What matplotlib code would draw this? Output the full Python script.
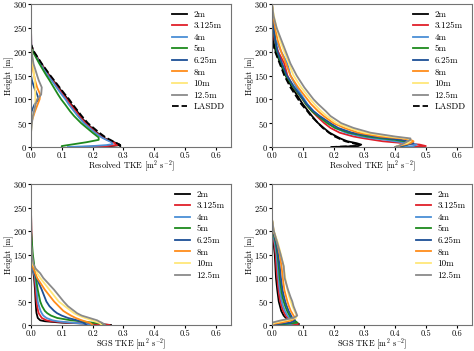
import numpy as np
import matplotlib
matplotlib.use("Agg")
from matplotlib import pyplot as plt

# Schrift wie LaTeX
plt.rcParams['font.family'] = 'serif'
plt.rcParams['font.serif'] = ['cmr10']
plt.rcParams['mathtext.fontset'] = 'cm'
plt.rcParams['axes.formatter.use_mathtext'] = True
plt.rcParams['font.size'] = 6.5

labels = ['2m', '3.125m', '4m', '5m', '6.25m', '8m', '10m', '12.5m']
colors = ['black', '#e0202a', '#4a8fd6', '#1e8a1e', '#1d4f96', '#ff8c1a', '#ffe77a', '#8a8a8a']

# --- Resolved TKE, links ---
z_res_l = [0, 2, 4, 6, 10, 15, 20, 30, 50, 65, 75, 90, 100, 110, 125, 140, 150, 175, 200, 215, 250, 300]
res_l = [
    [0.18, 0.26, 0.29, 0.285, 0.27, 0.25, 0.235, 0.215, 0.18, 0.16, 0.15, 0.13, 0.12, 0.108, 0.09, 0.072, 0.06, 0.033, 0.008, 0.0, 0.0, 0.0],
    [0.16, 0.25, 0.28, 0.28, 0.265, 0.248, 0.232, 0.212, 0.177, 0.157, 0.146, 0.127, 0.116, 0.104, 0.087, 0.07, 0.058, 0.032, 0.008, 0.001, 0.0, 0.0],
    [0.12, 0.20, 0.245, 0.265, 0.262, 0.245, 0.23, 0.208, 0.172, 0.152, 0.14, 0.122, 0.112, 0.1, 0.083, 0.067, 0.055, 0.03, 0.007, 0.001, 0.0, 0.0],
    [0.10, 0.10, 0.12, 0.14, 0.18, 0.22, 0.22, 0.20, 0.163, 0.14, 0.127, 0.11, 0.098, 0.088, 0.074, 0.06, 0.05, 0.027, 0.006, 0.0, 0.0, 0.0],
    [0.0, 0.0, 0.0, 0.0, 0.0, 0.0, 0.0, 0.0, 0.0, 0.0, 0.002, 0.012, 0.025, 0.02, 0.01, 0.003, 0.0, 0.0, 0.0, 0.0, 0.0, 0.0],
    [0.0, 0.0, 0.0, 0.0, 0.0, 0.0, 0.0, 0.0, 0.0, 0.008, 0.013, 0.022, 0.028, 0.03, 0.02, 0.013, 0.01, 0.003, 0.0, 0.0, 0.0, 0.0],
    [0.0, 0.0, 0.0, 0.0, 0.0, 0.0, 0.0, 0.0, 0.002, 0.006, 0.01, 0.014, 0.014, 0.014, 0.014, 0.012, 0.01, 0.006, 0.002, 0.0, 0.0, 0.0],
    [0.0, 0.0, 0.0, 0.0, 0.0, 0.0, 0.0, 0.0, 0.003, 0.006, 0.01, 0.015, 0.02, 0.033, 0.035, 0.025, 0.02, 0.008, 0.002, 0.0, 0.0, 0.0],
]
lasdd_l = [0.29, 0.29, 0.29, 0.285, 0.272, 0.258, 0.243, 0.222, 0.185, 0.165, 0.153, 0.135, 0.124, 0.111, 0.093, 0.075, 0.063, 0.035, 0.01, 0.0, 0.0, 0.0]

# --- Resolved TKE, rechts ---
z_res_r = [0, 2, 5, 8, 12, 15, 18, 22, 30, 40, 50, 65, 75, 90, 100, 125, 150, 175, 200, 225, 250, 275, 300]
res_r = [
    [0.20, 0.28, 0.29, 0.275, 0.245, 0.233, 0.222, 0.21, 0.187, 0.168, 0.15, 0.13, 0.118, 0.1, 0.09, 0.065, 0.044, 0.028, 0.012, 0.004, 0.002, 0.001, 0.0],
    [0.45, 0.50, 0.48, 0.43, 0.36, 0.33, 0.30, 0.265, 0.22, 0.19, 0.17, 0.145, 0.13, 0.11, 0.10, 0.07, 0.05, 0.04, 0.02, 0.008, 0.004, 0.002, 0.0],
    [0.42, 0.46, 0.47, 0.45, 0.40, 0.37, 0.33, 0.29, 0.24, 0.205, 0.18, 0.152, 0.135, 0.115, 0.105, 0.08, 0.06, 0.05, 0.03, 0.012, 0.006, 0.003, 0.0],
    [0.40, 0.42, 0.44, 0.45, 0.43, 0.40, 0.36, 0.31, 0.25, 0.205, 0.18, 0.15, 0.13, 0.11, 0.10, 0.07, 0.045, 0.03, 0.015, 0.01, 0.005, 0.002, 0.0],
    [0.40, 0.42, 0.44, 0.46, 0.44, 0.42, 0.38, 0.33, 0.26, 0.215, 0.19, 0.155, 0.135, 0.113, 0.102, 0.073, 0.048, 0.033, 0.018, 0.01, 0.005, 0.002, 0.0],
    [0.40, 0.41, 0.43, 0.45, 0.46, 0.45, 0.42, 0.35, 0.28, 0.235, 0.20, 0.168, 0.15, 0.127, 0.115, 0.085, 0.06, 0.045, 0.03, 0.018, 0.01, 0.004, 0.0],
    [0.40, 0.41, 0.42, 0.44, 0.45, 0.45, 0.44, 0.38, 0.30, 0.25, 0.21, 0.178, 0.16, 0.138, 0.125, 0.095, 0.07, 0.055, 0.04, 0.025, 0.015, 0.006, 0.0],
    [0.40, 0.41, 0.42, 0.43, 0.44, 0.45, 0.45, 0.40, 0.32, 0.265, 0.225, 0.19, 0.175, 0.15, 0.135, 0.105, 0.08, 0.06, 0.045, 0.03, 0.015, 0.005, 0.0],
]
lasdd_r = [0.19, 0.28, 0.28, 0.262, 0.238, 0.227, 0.217, 0.204, 0.185, 0.165, 0.15, 0.127, 0.115, 0.095, 0.085, 0.06, 0.04, 0.025, 0.01, 0.0, 0.0, 0.0, 0.0]

# --- SGS TKE, links ---
z_sgs_l = [0, 1, 3, 5, 8, 10, 15, 20, 25, 30, 40, 50, 75, 100, 110, 120, 130, 150, 175, 200, 250, 300]
sgs_l = [
    [0.26, 0.24, 0.18, 0.10, 0.045, 0.03, 0.022, 0.02, 0.018, 0.017, 0.016, 0.015, 0.013, 0.01, 0.008, 0.006, 0.005, 0.003, 0.002, 0.001, 0.0, 0.0],
    [0.255, 0.24, 0.19, 0.12, 0.065, 0.05, 0.035, 0.03, 0.025, 0.023, 0.02, 0.018, 0.015, 0.012, 0.01, 0.008, 0.006, 0.004, 0.002, 0.001, 0.0, 0.0],
    [0.20, 0.19, 0.17, 0.13, 0.085, 0.07, 0.05, 0.04, 0.035, 0.031, 0.026, 0.022, 0.018, 0.014, 0.01, 0.005, 0.003, 0.002, 0.001, 0.0, 0.0, 0.0],
    [0.24, 0.235, 0.23, 0.20, 0.16, 0.13, 0.085, 0.065, 0.053, 0.045, 0.036, 0.03, 0.022, 0.016, 0.013, 0.011, 0.01, 0.006, 0.003, 0.0, 0.0, 0.0],
    [0.18, 0.178, 0.175, 0.17, 0.16, 0.15, 0.12, 0.10, 0.085, 0.075, 0.06, 0.05, 0.035, 0.018, 0.012, 0.008, 0.005, 0.002, 0.0, 0.0, 0.0, 0.0],
    [0.20, 0.198, 0.195, 0.19, 0.175, 0.165, 0.145, 0.13, 0.117, 0.105, 0.09, 0.075, 0.045, 0.02, 0.014, 0.008, 0.003, 0.0, 0.0, 0.0, 0.0, 0.0],
    [0.23, 0.228, 0.225, 0.22, 0.205, 0.20, 0.175, 0.155, 0.14, 0.13, 0.11, 0.09, 0.06, 0.03, 0.02, 0.015, 0.005, 0.002, 0.0, 0.0, 0.0, 0.0],
    [0.24, 0.238, 0.235, 0.23, 0.22, 0.215, 0.19, 0.165, 0.15, 0.14, 0.12, 0.106, 0.075, 0.04, 0.03, 0.015, 0.008, 0.003, 0.0, 0.0, 0.0, 0.0],
]

# --- SGS TKE, rechts ---
z_sgs_r = [0, 2, 5, 10, 15, 20, 30, 40, 50, 60, 75, 100, 125, 150, 175, 200, 225, 250, 300]
sgs_r = [
    [0.02, 0.088, 0.08, 0.06, 0.045, 0.038, 0.03, 0.026, 0.022, 0.02, 0.017, 0.013, 0.011, 0.009, 0.005, 0.0, 0.0, 0.0, 0.0],
    [0.02, 0.085, 0.078, 0.065, 0.05, 0.044, 0.036, 0.031, 0.027, 0.024, 0.021, 0.017, 0.014, 0.012, 0.007, 0.001, 0.0, 0.0, 0.0],
    [0.01, 0.06, 0.08, 0.07, 0.056, 0.05, 0.042, 0.036, 0.032, 0.029, 0.025, 0.021, 0.018, 0.015, 0.009, 0.002, 0.0, 0.0, 0.0],
    [0.0, 0.04, 0.082, 0.073, 0.062, 0.057, 0.049, 0.043, 0.038, 0.034, 0.03, 0.025, 0.022, 0.018, 0.012, 0.003, 0.0, 0.0, 0.0],
    [0.0, 0.02, 0.06, 0.075, 0.066, 0.062, 0.054, 0.048, 0.043, 0.039, 0.034, 0.029, 0.025, 0.02, 0.014, 0.004, 0.0, 0.0, 0.0],
    [0.0, 0.0, 0.03, 0.065, 0.075, 0.07, 0.061, 0.055, 0.05, 0.046, 0.04, 0.035, 0.031, 0.025, 0.017, 0.005, 0.0, 0.0, 0.0],
    [0.0, 0.0, 0.01, 0.045, 0.078, 0.08, 0.073, 0.066, 0.061, 0.056, 0.05, 0.043, 0.038, 0.029, 0.019, 0.006, 0.0, 0.0, 0.0],
    [0.0, 0.0, 0.0, 0.03, 0.07, 0.082, 0.076, 0.07, 0.066, 0.06, 0.052, 0.041, 0.038, 0.028, 0.017, 0.006, 0.0, 0.0, 0.0],
]

xticks = [0.0, 0.1, 0.2, 0.3, 0.4, 0.5, 0.6]
yticks = [0, 50, 100, 150, 200, 250, 300]

fig = plt.figure(figsize=(4.74, 3.51), dpi=100)
W, H = 474.0, 351.0

def make_axes(x0, y_top, y_bot, x1):
    return fig.add_axes([x0 / W, 1 - y_bot / H, (x1 - x0) / W, (y_bot - y_top) / H])

ax1 = make_axes(31, 4, 147, 231)
ax2 = make_axes(272, 4, 147, 472)
ax3 = make_axes(31, 184, 325, 231)
ax4 = make_axes(272, 184, 325, 472)

panels = [
    (ax1, z_res_l, res_l, lasdd_l, r'Resolved TKE [m$^2$ s$^{-2}$]'),
    (ax2, z_res_r, res_r, lasdd_r, r'Resolved TKE [m$^2$ s$^{-2}$]'),
    (ax3, z_sgs_l, sgs_l, None, r'SGS TKE [m$^2$ s$^{-2}$]'),
    (ax4, z_sgs_r, sgs_r, None, r'SGS TKE [m$^2$ s$^{-2}$]'),
]

for ax, z, series, lasdd, xlabel in panels:
    for vals, lab, col in zip(series, labels, colors):
        ax.plot(vals, z, color=col, lw=1.3, label=lab)
    if lasdd is not None:
        ax.plot(lasdd, z, color='black', lw=1.3, ls='--', label='LASDD')
    ax.set_xlim(0, 0.65)
    ax.set_ylim(0, 300)
    ax.set_xticks(xticks)
    ax.set_xticklabels(['%.1f' % t for t in xticks])
    ax.set_yticks(yticks)
    ax.set_xlabel(xlabel, fontsize=6, va='top')
    ax.set_ylabel('Height [m]', fontsize=6)
    # Achsenbeschriftungen fest platzieren, damit nichts abgeschnitten wird
    ax.yaxis.set_label_coords(-0.085, 0.5)
    ax.xaxis.set_label_coords(0.5, -0.085)
    ax.tick_params(length=2, pad=1, labelsize=6)
    for sp in ax.spines.values():
        sp.set_color('0.45')
    ax.legend(loc='upper right', frameon=False, fontsize=6.5, handlelength=1.7,
              handletextpad=0.7, labelspacing=0.35, borderaxespad=0.3)

fig.savefig('out.png', dpi=100)
